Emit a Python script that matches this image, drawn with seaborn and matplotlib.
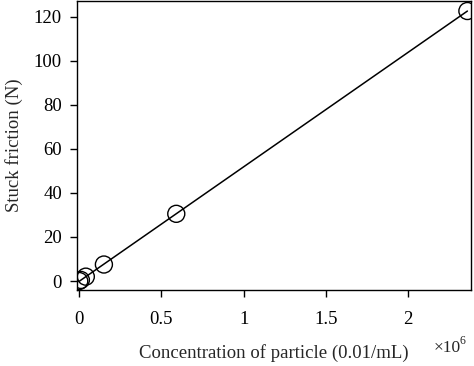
import matplotlib
matplotlib.use("Agg")
import matplotlib.pyplot as plt
import numpy as np
import pandas as pd
import seaborn as sns

# data (x in units of 1e6)
conc = [0.0, 0.01, 0.04, 0.15, 0.59, 2.36]
friction = [0.0, 0.5, 2.0, 7.5, 30.5, 122.5]

xticks = [0, 0.5, 1, 1.5, 2]
xtick_labels = ["0", "0.5", "1", "1.5", "2"]
yticks = [0, 20, 40, 60, 80, 100, 120]

sns.set_theme(style="ticks")
plt.rcParams['font.family'] = ['Liberation Serif', 'DejaVu Serif']

df = pd.DataFrame({"conc": conc, "friction": friction})

# linear fit
slope, intercept = np.polyfit(conc, friction, 1)
fit_x = np.array([min(conc), max(conc)])
fit = pd.DataFrame({"conc": fit_x, "friction": slope * fit_x + intercept})

fig = plt.figure(figsize=(4.74, 3.66), dpi=100)
ax = fig.add_axes([0.163, 0.208, 0.83, 0.789])

sns.lineplot(data=fit, x="conc", y="friction", color="black", linewidth=1.1, ax=ax)
sns.scatterplot(data=df, x="conc", y="friction", s=150, facecolor="none",
                edgecolor="black", linewidth=1.0, ax=ax, zorder=3)

ax.set_xlim(-0.012, 2.38)
ax.set_ylim(-4, 127)
ax.set_xticks(xticks)
ax.set_xticklabels(xtick_labels)
ax.set_yticks(yticks)
ax.tick_params(direction="out", length=5, width=1, labelsize=13.5, colors="black")
ax.tick_params(axis="x", pad=10)
ax.tick_params(axis="y", pad=6)
for s in ax.spines.values():
    s.set_visible(True)
    s.set_color("black")
    s.set_linewidth(1.0)

ax.set_xlabel("Concentration of particle (0.01/mL)", fontsize=13.5, labelpad=12)
ax.set_ylabel("Stuck friction (N)", fontsize=13.5, labelpad=8)
fig.text(0.914, 0.049, "×10", fontsize=12.5, ha="left", va="center")
fig.text(0.970, 0.068, "6", fontsize=8.5, ha="left", va="center")

fig.savefig("out.png", dpi=100)
